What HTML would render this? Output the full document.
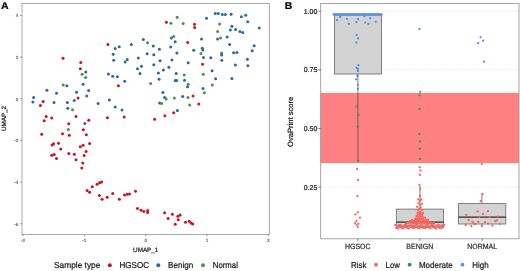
<!DOCTYPE html>
<html lang="en"><head><meta charset="utf-8"><title>Figure</title>
<style>
html,body{margin:0;padding:0;background:#fff;}
body{width:520px;height:271px;overflow:hidden;font-family:'Liberation Sans', Arial, sans-serif;}
svg{display:block;}
svg text{font-family:'Liberation Sans', Arial, sans-serif;text-rendering:geometricPrecision;}
</style></head><body>
<svg width="520" height="271" viewBox="0 0 520 271">
<rect x="0" y="0" width="520" height="271" fill="#ffffff"/>
<g id="panelA">
<rect x="22.0" y="3.6" width="247.3" height="230.8" fill="#fff" stroke="#8f8f8f" stroke-width="0.75"/>
<line x1="20.1" y1="15.5" x2="22.0" y2="15.5" stroke="#555" stroke-width="0.6"/>
<text x="18.4" y="17.4" font-size="4.6" fill="#555" text-anchor="end" stroke="#555" stroke-width="0.12">4</text>
<line x1="20.1" y1="57.2" x2="22.0" y2="57.2" stroke="#555" stroke-width="0.6"/>
<text x="18.4" y="59.1" font-size="4.6" fill="#555" text-anchor="end" stroke="#555" stroke-width="0.12">2</text>
<line x1="20.1" y1="98.8" x2="22.0" y2="98.8" stroke="#555" stroke-width="0.6"/>
<text x="18.4" y="100.7" font-size="4.6" fill="#555" text-anchor="end" stroke="#555" stroke-width="0.12">0</text>
<line x1="20.1" y1="140.4" x2="22.0" y2="140.4" stroke="#555" stroke-width="0.6"/>
<text x="18.4" y="142.3" font-size="4.6" fill="#555" text-anchor="end" stroke="#555" stroke-width="0.12">-2</text>
<line x1="20.1" y1="182.1" x2="22.0" y2="182.1" stroke="#555" stroke-width="0.6"/>
<text x="18.4" y="184.0" font-size="4.6" fill="#555" text-anchor="end" stroke="#555" stroke-width="0.12">-4</text>
<line x1="20.1" y1="223.8" x2="22.0" y2="223.8" stroke="#555" stroke-width="0.6"/>
<text x="18.4" y="225.7" font-size="4.6" fill="#555" text-anchor="end" stroke="#555" stroke-width="0.12">-6</text>
<line x1="23.0" y1="234.4" x2="23.0" y2="236.3" stroke="#555" stroke-width="0.6"/>
<text x="23.0" y="241.6" font-size="4.6" fill="#555" text-anchor="middle" stroke="#555" stroke-width="0.12">-2</text>
<line x1="84.4" y1="234.4" x2="84.4" y2="236.3" stroke="#555" stroke-width="0.6"/>
<text x="84.4" y="241.6" font-size="4.6" fill="#555" text-anchor="middle" stroke="#555" stroke-width="0.12">-1</text>
<line x1="145.7" y1="234.4" x2="145.7" y2="236.3" stroke="#555" stroke-width="0.6"/>
<text x="145.7" y="241.6" font-size="4.6" fill="#555" text-anchor="middle" stroke="#555" stroke-width="0.12">0</text>
<line x1="207.0" y1="234.4" x2="207.0" y2="236.3" stroke="#555" stroke-width="0.6"/>
<text x="207.0" y="241.6" font-size="4.6" fill="#555" text-anchor="middle" stroke="#555" stroke-width="0.12">1</text>
<line x1="268.3" y1="234.4" x2="268.3" y2="236.3" stroke="#555" stroke-width="0.6"/>
<text x="268.3" y="241.6" font-size="4.6" fill="#555" text-anchor="middle" stroke="#555" stroke-width="0.12">2</text>
<text x="145.7" y="252.3" font-size="6.3" fill="#1a1a1a" text-anchor="middle" stroke="#1a1a1a" stroke-width="0.22">UMAP_1</text>
<text transform="translate(6.3,118.5) rotate(-90)" font-size="6.3" fill="#1a1a1a" text-anchor="middle" stroke="#1a1a1a" stroke-width="0.22">UMAP_2</text>
<circle cx="107.9" cy="44.4" r="1.5" fill="#cc1122"/>
<circle cx="115.2" cy="48.4" r="1.5" fill="#2c679f"/>
<circle cx="119.2" cy="46.7" r="1.5" fill="#2c679f"/>
<circle cx="113.2" cy="54.2" r="1.5" fill="#2c679f"/>
<circle cx="113.7" cy="60.2" r="1.5" fill="#2c679f"/>
<circle cx="125.2" cy="62.0" r="1.5" fill="#2c679f"/>
<circle cx="127.2" cy="59.5" r="1.5" fill="#2c679f"/>
<circle cx="63.0" cy="58.2" r="1.5" fill="#cc1122"/>
<circle cx="80.8" cy="62.5" r="1.5" fill="#cc1122"/>
<circle cx="215.3" cy="13.6" r="1.5" fill="#2c679f"/>
<circle cx="218.3" cy="13.6" r="1.5" fill="#2c679f"/>
<circle cx="222.3" cy="14.6" r="1.5" fill="#2c679f"/>
<circle cx="225.4" cy="14.6" r="1.5" fill="#2c679f"/>
<circle cx="231.1" cy="14.3" r="1.5" fill="#2c679f"/>
<circle cx="241.4" cy="16.8" r="1.5" fill="#2c679f"/>
<circle cx="245.7" cy="15.3" r="1.5" fill="#2c679f"/>
<circle cx="247.7" cy="21.8" r="1.5" fill="#2c679f"/>
<circle cx="206.5" cy="18.3" r="1.5" fill="#2c679f"/>
<circle cx="177.2" cy="17.3" r="1.5" fill="#43963f"/>
<circle cx="166.4" cy="22.3" r="1.5" fill="#cc1122"/>
<circle cx="170.9" cy="23.3" r="1.5" fill="#43963f"/>
<circle cx="183.2" cy="23.6" r="1.5" fill="#43963f"/>
<circle cx="194.5" cy="24.3" r="1.5" fill="#cc1122"/>
<circle cx="194.7" cy="27.4" r="1.5" fill="#cc1122"/>
<circle cx="219.6" cy="24.1" r="1.5" fill="#43963f"/>
<circle cx="217.6" cy="31.4" r="1.5" fill="#43963f"/>
<circle cx="231.9" cy="26.3" r="1.5" fill="#2c679f"/>
<circle cx="230.4" cy="29.9" r="1.5" fill="#2c679f"/>
<circle cx="235.6" cy="29.4" r="1.5" fill="#2c679f"/>
<circle cx="239.9" cy="31.4" r="1.5" fill="#2c679f"/>
<circle cx="242.7" cy="32.4" r="1.5" fill="#2c679f"/>
<circle cx="259.2" cy="28.1" r="1.5" fill="#2c679f"/>
<circle cx="173.7" cy="36.4" r="1.5" fill="#43963f"/>
<circle cx="171.4" cy="38.1" r="1.5" fill="#2c679f"/>
<circle cx="175.2" cy="41.7" r="1.5" fill="#2c679f"/>
<circle cx="143.3" cy="39.4" r="1.5" fill="#2c679f"/>
<circle cx="147.6" cy="42.7" r="1.5" fill="#43963f"/>
<circle cx="153.3" cy="45.9" r="1.5" fill="#2c679f"/>
<circle cx="159.4" cy="49.2" r="1.5" fill="#2c679f"/>
<circle cx="131.3" cy="44.4" r="1.5" fill="#2c679f"/>
<circle cx="187.7" cy="42.4" r="1.5" fill="#cc1122"/>
<circle cx="201.5" cy="38.9" r="1.5" fill="#2c679f"/>
<circle cx="217.6" cy="39.1" r="1.5" fill="#2c679f"/>
<circle cx="220.6" cy="38.1" r="1.5" fill="#43963f"/>
<circle cx="227.1" cy="36.9" r="1.5" fill="#2c679f"/>
<circle cx="229.6" cy="44.4" r="1.5" fill="#2c679f"/>
<circle cx="254.2" cy="45.7" r="1.5" fill="#2c679f"/>
<circle cx="252.2" cy="50.7" r="1.5" fill="#2c679f"/>
<circle cx="170.7" cy="46.9" r="1.5" fill="#2c679f"/>
<circle cx="176.9" cy="52.9" r="1.5" fill="#2c679f"/>
<circle cx="193.7" cy="50.2" r="1.5" fill="#2c679f"/>
<circle cx="202.3" cy="48.2" r="1.5" fill="#2c679f"/>
<circle cx="202.8" cy="49.9" r="1.5" fill="#2c679f"/>
<circle cx="201.0" cy="53.5" r="1.5" fill="#43963f"/>
<circle cx="221.6" cy="52.9" r="1.5" fill="#43963f"/>
<circle cx="221.6" cy="55.0" r="1.5" fill="#2c679f"/>
<circle cx="233.6" cy="52.7" r="1.5" fill="#2c679f"/>
<circle cx="236.9" cy="52.4" r="1.5" fill="#2c679f"/>
<circle cx="147.1" cy="53.7" r="1.5" fill="#2c679f"/>
<circle cx="153.8" cy="54.7" r="1.5" fill="#2c679f"/>
<circle cx="138.3" cy="58.0" r="1.5" fill="#2c679f"/>
<circle cx="160.1" cy="60.7" r="1.5" fill="#2c679f"/>
<circle cx="171.9" cy="60.0" r="1.5" fill="#2c679f"/>
<circle cx="188.2" cy="62.7" r="1.5" fill="#2c679f"/>
<circle cx="203.5" cy="57.5" r="1.5" fill="#2c679f"/>
<circle cx="210.8" cy="57.7" r="1.5" fill="#2c679f"/>
<circle cx="221.8" cy="60.2" r="1.5" fill="#2c679f"/>
<circle cx="247.4" cy="59.2" r="1.5" fill="#2c679f"/>
<circle cx="202.5" cy="64.2" r="1.5" fill="#cc1122"/>
<circle cx="141.5" cy="66.2" r="1.5" fill="#2c679f"/>
<circle cx="153.8" cy="64.7" r="1.5" fill="#2c679f"/>
<circle cx="168.9" cy="67.3" r="1.5" fill="#2c679f"/>
<circle cx="235.4" cy="65.0" r="1.5" fill="#2c679f"/>
<circle cx="247.9" cy="65.7" r="1.5" fill="#2c679f"/>
<circle cx="80.3" cy="68.8" r="1.5" fill="#cc1122"/>
<circle cx="85.8" cy="72.0" r="1.5" fill="#2c679f"/>
<circle cx="82.1" cy="74.3" r="1.5" fill="#43963f"/>
<circle cx="85.6" cy="77.5" r="1.5" fill="#43963f"/>
<circle cx="108.4" cy="74.0" r="1.5" fill="#2c679f"/>
<circle cx="112.7" cy="76.3" r="1.5" fill="#2c679f"/>
<circle cx="117.4" cy="76.8" r="1.5" fill="#2c679f"/>
<circle cx="124.7" cy="81.3" r="1.5" fill="#2c679f"/>
<circle cx="118.4" cy="85.8" r="1.5" fill="#cc1122"/>
<circle cx="83.1" cy="84.3" r="1.5" fill="#2c679f"/>
<circle cx="63.2" cy="85.1" r="1.5" fill="#43963f"/>
<circle cx="66.8" cy="85.8" r="1.5" fill="#2c679f"/>
<circle cx="46.9" cy="90.3" r="1.5" fill="#2c679f"/>
<circle cx="56.5" cy="93.3" r="1.5" fill="#2c679f"/>
<circle cx="76.5" cy="92.3" r="1.5" fill="#2c679f"/>
<circle cx="88.6" cy="90.6" r="1.5" fill="#2c679f"/>
<circle cx="86.8" cy="96.1" r="1.5" fill="#2c679f"/>
<circle cx="78.0" cy="97.9" r="1.5" fill="#cc1122"/>
<circle cx="74.3" cy="100.4" r="1.5" fill="#2c679f"/>
<circle cx="67.3" cy="102.4" r="1.5" fill="#2c679f"/>
<circle cx="33.6" cy="97.4" r="1.5" fill="#2c679f"/>
<circle cx="32.9" cy="101.9" r="1.5" fill="#2c679f"/>
<circle cx="43.2" cy="101.4" r="1.5" fill="#cc1122"/>
<circle cx="40.4" cy="105.6" r="1.5" fill="#cc1122"/>
<circle cx="54.0" cy="102.4" r="1.5" fill="#2c679f"/>
<circle cx="98.1" cy="103.4" r="1.5" fill="#2c679f"/>
<circle cx="109.4" cy="99.9" r="1.5" fill="#2c679f"/>
<circle cx="115.2" cy="106.9" r="1.5" fill="#2c679f"/>
<circle cx="122.0" cy="109.9" r="1.5" fill="#2c679f"/>
<circle cx="67.8" cy="108.2" r="1.5" fill="#2c679f"/>
<circle cx="72.5" cy="109.7" r="1.5" fill="#43963f"/>
<circle cx="46.2" cy="116.4" r="1.5" fill="#cc1122"/>
<circle cx="44.2" cy="120.7" r="1.5" fill="#cc1122"/>
<circle cx="51.7" cy="117.9" r="1.5" fill="#cc1122"/>
<circle cx="76.0" cy="116.4" r="1.5" fill="#cc1122"/>
<circle cx="88.8" cy="120.2" r="1.5" fill="#cc1122"/>
<circle cx="84.8" cy="123.5" r="1.5" fill="#2c679f"/>
<circle cx="68.8" cy="123.7" r="1.5" fill="#cc1122"/>
<circle cx="107.4" cy="117.7" r="1.5" fill="#cc1122"/>
<circle cx="124.2" cy="116.9" r="1.5" fill="#cc1122"/>
<circle cx="68.3" cy="129.5" r="1.5" fill="#43963f"/>
<circle cx="83.3" cy="129.7" r="1.5" fill="#cc1122"/>
<circle cx="62.5" cy="133.7" r="1.5" fill="#cc1122"/>
<circle cx="41.7" cy="134.2" r="1.5" fill="#cc1122"/>
<circle cx="69.3" cy="135.3" r="1.5" fill="#cc1122"/>
<circle cx="86.3" cy="134.8" r="1.5" fill="#cc1122"/>
<circle cx="137.5" cy="68.8" r="1.5" fill="#2c679f"/>
<circle cx="140.0" cy="73.5" r="1.5" fill="#2c679f"/>
<circle cx="158.4" cy="73.0" r="1.5" fill="#2c679f"/>
<circle cx="163.4" cy="70.0" r="1.5" fill="#2c679f"/>
<circle cx="176.2" cy="73.5" r="1.5" fill="#2c679f"/>
<circle cx="184.2" cy="75.0" r="1.5" fill="#43963f"/>
<circle cx="203.3" cy="74.3" r="1.5" fill="#43963f"/>
<circle cx="212.1" cy="70.8" r="1.5" fill="#2c679f"/>
<circle cx="159.1" cy="79.3" r="1.5" fill="#2c679f"/>
<circle cx="175.2" cy="80.5" r="1.5" fill="#2c679f"/>
<circle cx="176.7" cy="80.5" r="1.5" fill="#2c679f"/>
<circle cx="184.5" cy="80.3" r="1.5" fill="#2c679f"/>
<circle cx="215.6" cy="78.8" r="1.5" fill="#2c679f"/>
<circle cx="231.9" cy="78.5" r="1.5" fill="#2c679f"/>
<circle cx="150.6" cy="83.6" r="1.5" fill="#43963f"/>
<circle cx="188.2" cy="84.3" r="1.5" fill="#43963f"/>
<circle cx="187.5" cy="86.8" r="1.5" fill="#2c679f"/>
<circle cx="212.3" cy="85.1" r="1.5" fill="#43963f"/>
<circle cx="203.0" cy="88.6" r="1.5" fill="#2c679f"/>
<circle cx="204.3" cy="92.8" r="1.5" fill="#43963f"/>
<circle cx="162.9" cy="92.6" r="1.5" fill="#2c679f"/>
<circle cx="164.6" cy="97.4" r="1.5" fill="#2c679f"/>
<circle cx="166.1" cy="98.9" r="1.5" fill="#43963f"/>
<circle cx="174.4" cy="97.9" r="1.5" fill="#43963f"/>
<circle cx="182.7" cy="96.4" r="1.5" fill="#2c679f"/>
<circle cx="188.0" cy="97.6" r="1.5" fill="#43963f"/>
<circle cx="193.0" cy="96.1" r="1.5" fill="#cc1122"/>
<circle cx="159.6" cy="102.9" r="1.5" fill="#2c679f"/>
<circle cx="161.6" cy="103.4" r="1.5" fill="#43963f"/>
<circle cx="189.7" cy="104.9" r="1.5" fill="#43963f"/>
<circle cx="198.8" cy="103.9" r="1.5" fill="#cc1122"/>
<circle cx="177.4" cy="110.4" r="1.5" fill="#2c679f"/>
<circle cx="173.7" cy="112.7" r="1.5" fill="#cc1122"/>
<circle cx="164.9" cy="115.7" r="1.5" fill="#cc1122"/>
<circle cx="154.6" cy="119.2" r="1.5" fill="#cc1122"/>
<circle cx="52.2" cy="145.0" r="1.5" fill="#cc1122"/>
<circle cx="53.5" cy="143.8" r="1.5" fill="#cc1122"/>
<circle cx="58.5" cy="143.3" r="1.5" fill="#cc1122"/>
<circle cx="60.7" cy="149.0" r="1.5" fill="#cc1122"/>
<circle cx="80.3" cy="146.8" r="1.5" fill="#cc1122"/>
<circle cx="83.1" cy="145.3" r="1.5" fill="#cc1122"/>
<circle cx="89.6" cy="143.5" r="1.5" fill="#cc1122"/>
<circle cx="86.1" cy="151.6" r="1.5" fill="#cc1122"/>
<circle cx="84.1" cy="155.6" r="1.5" fill="#cc1122"/>
<circle cx="51.7" cy="155.3" r="1.5" fill="#cc1122"/>
<circle cx="54.2" cy="154.6" r="1.5" fill="#cc1122"/>
<circle cx="56.5" cy="158.6" r="1.5" fill="#cc1122"/>
<circle cx="68.8" cy="153.6" r="1.5" fill="#cc1122"/>
<circle cx="74.3" cy="154.3" r="1.5" fill="#cc1122"/>
<circle cx="76.0" cy="159.8" r="1.5" fill="#cc1122"/>
<circle cx="82.8" cy="162.9" r="1.5" fill="#cc1122"/>
<circle cx="81.8" cy="167.9" r="1.5" fill="#cc1122"/>
<circle cx="97.1" cy="184.2" r="1.5" fill="#cc1122"/>
<circle cx="99.6" cy="182.7" r="1.5" fill="#cc1122"/>
<circle cx="101.6" cy="181.9" r="1.5" fill="#cc1122"/>
<circle cx="92.3" cy="186.7" r="1.5" fill="#cc1122"/>
<circle cx="87.1" cy="190.5" r="1.5" fill="#cc1122"/>
<circle cx="89.6" cy="192.2" r="1.5" fill="#cc1122"/>
<circle cx="99.4" cy="195.5" r="1.5" fill="#cc1122"/>
<circle cx="102.1" cy="199.2" r="1.5" fill="#cc1122"/>
<circle cx="107.2" cy="197.2" r="1.5" fill="#cc1122"/>
<circle cx="112.7" cy="193.5" r="1.5" fill="#cc1122"/>
<circle cx="119.4" cy="199.2" r="1.5" fill="#cc1122"/>
<circle cx="124.5" cy="195.0" r="1.5" fill="#cc1122"/>
<circle cx="127.2" cy="194.2" r="1.5" fill="#cc1122"/>
<circle cx="129.5" cy="194.0" r="1.5" fill="#cc1122"/>
<circle cx="135.5" cy="191.2" r="1.5" fill="#cc1122"/>
<circle cx="137.5" cy="208.5" r="1.5" fill="#cc1122"/>
<circle cx="141.0" cy="210.3" r="1.5" fill="#cc1122"/>
<circle cx="143.8" cy="211.5" r="1.5" fill="#cc1122"/>
<circle cx="147.6" cy="210.5" r="1.5" fill="#cc1122"/>
<circle cx="147.6" cy="212.5" r="1.5" fill="#cc1122"/>
<circle cx="164.6" cy="212.8" r="1.5" fill="#cc1122"/>
<circle cx="172.4" cy="214.3" r="1.5" fill="#cc1122"/>
<circle cx="168.1" cy="218.6" r="1.5" fill="#cc1122"/>
<circle cx="177.9" cy="216.3" r="1.5" fill="#cc1122"/>
<circle cx="180.2" cy="215.0" r="1.5" fill="#cc1122"/>
<circle cx="178.2" cy="219.8" r="1.5" fill="#cc1122"/>
<circle cx="175.2" cy="224.3" r="1.5" fill="#cc1122"/>
<circle cx="185.5" cy="222.3" r="1.5" fill="#cc1122"/>
<circle cx="189.2" cy="221.3" r="1.5" fill="#cc1122"/>
<circle cx="191.0" cy="223.1" r="1.5" fill="#cc1122"/>
<circle cx="192.7" cy="224.1" r="1.5" fill="#cc1122"/>
</g>
<g id="legendA" font-size="8.6">
<text fill="#1a1a1a" x="54" y="267.7" textLength="46.4" lengthAdjust="spacingAndGlyphs" stroke="#1a1a1a" stroke-width="0.22">Sample type</text>
<circle cx="109.8" cy="265.3" r="1.95" fill="#cc1122"/>
<text fill="#1a1a1a" x="119.4" y="267.7" textLength="29.6" lengthAdjust="spacingAndGlyphs" stroke="#1a1a1a" stroke-width="0.22">HGSOC</text>
<circle cx="158.3" cy="265.3" r="1.95" fill="#2c679f"/>
<text fill="#1a1a1a" x="168.1" y="267.7" textLength="25.1" lengthAdjust="spacingAndGlyphs" stroke="#1a1a1a" stroke-width="0.22">Benign</text>
<circle cx="203.0" cy="265.3" r="1.95" fill="#43963f"/>
<text fill="#1a1a1a" x="212.8" y="267.7" textLength="25.1" lengthAdjust="spacingAndGlyphs" stroke="#1a1a1a" stroke-width="0.22">Normal</text>
</g>
<text x="1.0" y="9.1" font-size="9.5" font-weight="bold" fill="#000" textLength="7.6" lengthAdjust="spacingAndGlyphs" stroke="#000" stroke-width="0.22">A</text>
<g id="panelB">
<rect x="320.7" y="3.5" width="198.3" height="235.3" fill="#fff"/>
<line x1="320.7" y1="11.2" x2="519.0" y2="11.2" stroke="#dcdcdc" stroke-width="0.6" stroke-dasharray="1.6 1.6"/>
<line x1="320.7" y1="69.9" x2="519.0" y2="69.9" stroke="#dcdcdc" stroke-width="0.6" stroke-dasharray="1.6 1.6"/>
<line x1="320.7" y1="128.5" x2="519.0" y2="128.5" stroke="#dcdcdc" stroke-width="0.6" stroke-dasharray="1.6 1.6"/>
<line x1="320.7" y1="187.1" x2="519.0" y2="187.1" stroke="#dcdcdc" stroke-width="0.6" stroke-dasharray="1.6 1.6"/>
<rect x="320.7" y="92.9" width="198.3" height="70.2" fill="#ff8080"/>
<line x1="357.9" y1="14.4" x2="357.9" y2="14.4" stroke="#444" stroke-width="0.7"/>
<line x1="357.9" y1="74.0" x2="357.9" y2="161.2" stroke="#444" stroke-width="0.7"/>
<rect x="334.5" y="14.4" width="47.0" height="59.6" fill="#d3d3d3" stroke="#666" stroke-width="0.8"/>
<line x1="334.5" y1="14.6" x2="381.5" y2="14.6" stroke="#2a2a2a" stroke-width="1.3"/>
<line x1="420.0" y1="186.2" x2="420.0" y2="209.1" stroke="#444" stroke-width="0.7"/>
<line x1="420.0" y1="226.3" x2="420.0" y2="228.0" stroke="#444" stroke-width="0.7"/>
<rect x="396.3" y="209.1" width="47.3" height="17.2" fill="#d3d3d3" stroke="#666" stroke-width="0.8"/>
<line x1="396.3" y1="222.2" x2="443.6" y2="222.2" stroke="#2a2a2a" stroke-width="1.3"/>
<line x1="481.9" y1="194.0" x2="481.9" y2="203.6" stroke="#444" stroke-width="0.7"/>
<line x1="481.9" y1="224.0" x2="481.9" y2="226.2" stroke="#444" stroke-width="0.7"/>
<rect x="458.5" y="203.6" width="47.3" height="20.4" fill="#d3d3d3" stroke="#666" stroke-width="0.8"/>
<line x1="458.5" y1="217.2" x2="505.8" y2="217.2" stroke="#2a2a2a" stroke-width="1.3"/>
<circle cx="357.1" cy="168.9" r="1.15" fill="#f5645e"/>
<circle cx="358.1" cy="179.9" r="1.15" fill="#f5645e"/>
<circle cx="357.4" cy="196.2" r="1.15" fill="#f5645e"/>
<circle cx="357.9" cy="212.3" r="1.15" fill="#f5645e"/>
<circle cx="355.4" cy="214.3" r="1.15" fill="#f5645e"/>
<circle cx="359.9" cy="217.6" r="1.15" fill="#f5645e"/>
<circle cx="356.4" cy="221.1" r="1.15" fill="#f5645e"/>
<circle cx="355.1" cy="223.1" r="1.15" fill="#f5645e"/>
<circle cx="358.4" cy="223.8" r="1.15" fill="#f5645e"/>
<circle cx="356.6" cy="225.1" r="1.15" fill="#f5645e"/>
<circle cx="357.9" cy="227.1" r="1.15" fill="#f5645e"/>
<circle cx="356.6" cy="106.4" r="1.15" fill="#1aa53a"/>
<circle cx="358.4" cy="114.9" r="1.15" fill="#1aa53a"/>
<circle cx="357.6" cy="126.7" r="1.15" fill="#1aa53a"/>
<circle cx="358.1" cy="161.1" r="1.15" fill="#1aa53a"/>
<circle cx="356.6" cy="35.1" r="1.15" fill="#568ce9"/>
<circle cx="358.1" cy="38.4" r="1.15" fill="#568ce9"/>
<circle cx="356.4" cy="42.4" r="1.15" fill="#568ce9"/>
<circle cx="358.4" cy="65.2" r="1.15" fill="#568ce9"/>
<circle cx="356.6" cy="67.8" r="1.15" fill="#568ce9"/>
<circle cx="357.9" cy="68.8" r="1.15" fill="#568ce9"/>
<circle cx="357.9" cy="71.0" r="1.15" fill="#568ce9"/>
<circle cx="357.4" cy="76.0" r="1.15" fill="#568ce9"/>
<circle cx="356.1" cy="79.3" r="1.15" fill="#568ce9"/>
<circle cx="357.9" cy="85.1" r="1.15" fill="#568ce9"/>
<circle cx="357.9" cy="88.8" r="1.15" fill="#568ce9"/>
<circle cx="336.9" cy="20.1" r="1.15" fill="#568ce9"/>
<circle cx="340.1" cy="16.9" r="1.15" fill="#568ce9"/>
<circle cx="347.0" cy="18.8" r="1.15" fill="#568ce9"/>
<circle cx="348.8" cy="23.8" r="1.15" fill="#568ce9"/>
<circle cx="356.4" cy="22.0" r="1.15" fill="#568ce9"/>
<circle cx="358.2" cy="19.2" r="1.15" fill="#568ce9"/>
<circle cx="365.2" cy="22.6" r="1.15" fill="#568ce9"/>
<circle cx="368.3" cy="23.8" r="1.15" fill="#568ce9"/>
<circle cx="370.2" cy="18.2" r="1.15" fill="#568ce9"/>
<circle cx="375.8" cy="21.7" r="1.15" fill="#568ce9"/>
<circle cx="364.5" cy="16.3" r="1.15" fill="#568ce9"/>
<circle cx="333.6" cy="14.4" r="1.15" fill="#568ce9"/>
<circle cx="334.6" cy="14.4" r="1.15" fill="#568ce9"/>
<circle cx="335.6" cy="14.4" r="1.15" fill="#568ce9"/>
<circle cx="336.6" cy="14.4" r="1.15" fill="#568ce9"/>
<circle cx="337.6" cy="14.4" r="1.15" fill="#568ce9"/>
<circle cx="338.6" cy="14.4" r="1.15" fill="#568ce9"/>
<circle cx="339.6" cy="14.4" r="1.15" fill="#568ce9"/>
<circle cx="340.6" cy="14.4" r="1.15" fill="#568ce9"/>
<circle cx="341.6" cy="14.4" r="1.15" fill="#568ce9"/>
<circle cx="342.6" cy="14.4" r="1.15" fill="#568ce9"/>
<circle cx="343.6" cy="14.4" r="1.15" fill="#568ce9"/>
<circle cx="344.6" cy="14.4" r="1.15" fill="#568ce9"/>
<circle cx="345.6" cy="14.4" r="1.15" fill="#568ce9"/>
<circle cx="346.6" cy="14.4" r="1.15" fill="#568ce9"/>
<circle cx="347.6" cy="14.4" r="1.15" fill="#568ce9"/>
<circle cx="348.6" cy="14.4" r="1.15" fill="#568ce9"/>
<circle cx="349.6" cy="14.4" r="1.15" fill="#568ce9"/>
<circle cx="350.6" cy="14.4" r="1.15" fill="#568ce9"/>
<circle cx="351.6" cy="14.4" r="1.15" fill="#568ce9"/>
<circle cx="352.6" cy="14.4" r="1.15" fill="#568ce9"/>
<circle cx="353.6" cy="14.4" r="1.15" fill="#568ce9"/>
<circle cx="354.6" cy="14.4" r="1.15" fill="#568ce9"/>
<circle cx="355.6" cy="14.4" r="1.15" fill="#568ce9"/>
<circle cx="356.6" cy="14.4" r="1.15" fill="#568ce9"/>
<circle cx="357.6" cy="14.4" r="1.15" fill="#568ce9"/>
<circle cx="358.6" cy="14.4" r="1.15" fill="#568ce9"/>
<circle cx="359.6" cy="14.4" r="1.15" fill="#568ce9"/>
<circle cx="360.6" cy="14.4" r="1.15" fill="#568ce9"/>
<circle cx="361.6" cy="14.4" r="1.15" fill="#568ce9"/>
<circle cx="362.6" cy="14.4" r="1.15" fill="#568ce9"/>
<circle cx="363.6" cy="14.4" r="1.15" fill="#568ce9"/>
<circle cx="364.6" cy="14.4" r="1.15" fill="#568ce9"/>
<circle cx="365.6" cy="14.4" r="1.15" fill="#568ce9"/>
<circle cx="366.6" cy="14.4" r="1.15" fill="#568ce9"/>
<circle cx="367.6" cy="14.4" r="1.15" fill="#568ce9"/>
<circle cx="368.6" cy="14.4" r="1.15" fill="#568ce9"/>
<circle cx="369.6" cy="14.4" r="1.15" fill="#568ce9"/>
<circle cx="370.6" cy="14.4" r="1.15" fill="#568ce9"/>
<circle cx="371.6" cy="14.4" r="1.15" fill="#568ce9"/>
<circle cx="372.6" cy="14.4" r="1.15" fill="#568ce9"/>
<circle cx="373.6" cy="14.4" r="1.15" fill="#568ce9"/>
<circle cx="374.6" cy="14.4" r="1.15" fill="#568ce9"/>
<circle cx="375.6" cy="14.4" r="1.15" fill="#568ce9"/>
<circle cx="376.6" cy="14.4" r="1.15" fill="#568ce9"/>
<circle cx="377.6" cy="14.4" r="1.15" fill="#568ce9"/>
<circle cx="378.6" cy="14.4" r="1.15" fill="#568ce9"/>
<circle cx="379.6" cy="14.4" r="1.15" fill="#568ce9"/>
<circle cx="380.6" cy="14.4" r="1.15" fill="#568ce9"/>
<circle cx="381.6" cy="14.4" r="1.15" fill="#568ce9"/>
<circle cx="420.3" cy="91.9" r="1.15" fill="#568ce9"/>
<circle cx="419.4" cy="95.3" r="1.15" fill="#1aa53a"/>
<circle cx="419.7" cy="109.0" r="1.15" fill="#1aa53a"/>
<circle cx="419.4" cy="134.0" r="1.15" fill="#1aa53a"/>
<circle cx="420.0" cy="141.5" r="1.15" fill="#1aa53a"/>
<circle cx="419.7" cy="148.7" r="1.15" fill="#1aa53a"/>
<circle cx="420.0" cy="159.0" r="1.15" fill="#1aa53a"/>
<circle cx="419.7" cy="167.2" r="1.15" fill="#f5645e"/>
<circle cx="420.4" cy="170.4" r="1.15" fill="#f5645e"/>
<circle cx="419.9" cy="174.9" r="1.15" fill="#f5645e"/>
<circle cx="419.5" cy="185.0" r="1.15" fill="#f5645e"/>
<circle cx="420.2" cy="188.8" r="1.15" fill="#f5645e"/>
<circle cx="419.9" cy="196.0" r="1.15" fill="#f5645e"/>
<circle cx="418.2" cy="199.4" r="1.15" fill="#f5645e"/>
<circle cx="421.4" cy="199.4" r="1.15" fill="#f5645e"/>
<circle cx="419.9" cy="200.7" r="1.15" fill="#f5645e"/>
<circle cx="418.6" cy="203.2" r="1.15" fill="#f5645e"/>
<circle cx="422.0" cy="203.8" r="1.15" fill="#f5645e"/>
<circle cx="420.1" cy="205.1" r="1.15" fill="#f5645e"/>
<circle cx="417.3" cy="207.0" r="1.15" fill="#f5645e"/>
<circle cx="420.7" cy="207.6" r="1.15" fill="#f5645e"/>
<circle cx="419.1" cy="209.5" r="1.15" fill="#f5645e"/>
<circle cx="417.9" cy="210.1" r="1.15" fill="#f5645e"/>
<circle cx="422.0" cy="210.1" r="1.15" fill="#f5645e"/>
<circle cx="420.1" cy="212.0" r="1.15" fill="#f5645e"/>
<circle cx="422.9" cy="212.9" r="1.15" fill="#f5645e"/>
<circle cx="417.5" cy="212.8" r="1.15" fill="#f5645e"/>
<circle cx="418.2" cy="213.0" r="1.15" fill="#f5645e"/>
<circle cx="420.2" cy="213.2" r="1.15" fill="#f5645e"/>
<circle cx="422.2" cy="213.1" r="1.15" fill="#f5645e"/>
<circle cx="418.1" cy="215.0" r="1.15" fill="#f5645e"/>
<circle cx="420.1" cy="215.0" r="1.15" fill="#f5645e"/>
<circle cx="422.1" cy="214.6" r="1.15" fill="#f5645e"/>
<circle cx="416.6" cy="216.2" r="1.15" fill="#f5645e"/>
<circle cx="418.6" cy="216.9" r="1.15" fill="#f5645e"/>
<circle cx="420.6" cy="216.4" r="1.15" fill="#f5645e"/>
<circle cx="422.6" cy="216.4" r="1.15" fill="#f5645e"/>
<circle cx="415.3" cy="218.7" r="1.15" fill="#f5645e"/>
<circle cx="417.3" cy="218.3" r="1.15" fill="#f5645e"/>
<circle cx="419.3" cy="218.6" r="1.15" fill="#f5645e"/>
<circle cx="421.3" cy="218.3" r="1.15" fill="#f5645e"/>
<circle cx="423.3" cy="218.4" r="1.15" fill="#f5645e"/>
<circle cx="425.3" cy="218.0" r="1.15" fill="#f5645e"/>
<circle cx="412.0" cy="220.1" r="1.15" fill="#f5645e"/>
<circle cx="414.0" cy="220.3" r="1.15" fill="#f5645e"/>
<circle cx="416.0" cy="220.0" r="1.15" fill="#f5645e"/>
<circle cx="418.0" cy="220.2" r="1.15" fill="#f5645e"/>
<circle cx="420.0" cy="220.1" r="1.15" fill="#f5645e"/>
<circle cx="422.0" cy="219.7" r="1.15" fill="#f5645e"/>
<circle cx="424.0" cy="220.2" r="1.15" fill="#f5645e"/>
<circle cx="426.0" cy="220.1" r="1.15" fill="#f5645e"/>
<circle cx="428.0" cy="219.8" r="1.15" fill="#f5645e"/>
<circle cx="410.1" cy="221.2" r="1.15" fill="#f5645e"/>
<circle cx="412.1" cy="221.9" r="1.15" fill="#f5645e"/>
<circle cx="414.1" cy="221.6" r="1.15" fill="#f5645e"/>
<circle cx="416.1" cy="221.8" r="1.15" fill="#f5645e"/>
<circle cx="418.1" cy="221.9" r="1.15" fill="#f5645e"/>
<circle cx="420.1" cy="221.8" r="1.15" fill="#f5645e"/>
<circle cx="422.1" cy="221.9" r="1.15" fill="#f5645e"/>
<circle cx="424.1" cy="221.5" r="1.15" fill="#f5645e"/>
<circle cx="426.1" cy="221.8" r="1.15" fill="#f5645e"/>
<circle cx="428.1" cy="221.6" r="1.15" fill="#f5645e"/>
<circle cx="430.1" cy="221.9" r="1.15" fill="#f5645e"/>
<circle cx="406.0" cy="223.4" r="1.15" fill="#f5645e"/>
<circle cx="408.0" cy="222.8" r="1.15" fill="#f5645e"/>
<circle cx="410.0" cy="222.8" r="1.15" fill="#f5645e"/>
<circle cx="412.0" cy="222.9" r="1.15" fill="#f5645e"/>
<circle cx="414.0" cy="223.5" r="1.15" fill="#f5645e"/>
<circle cx="416.0" cy="223.0" r="1.15" fill="#f5645e"/>
<circle cx="418.0" cy="223.2" r="1.15" fill="#f5645e"/>
<circle cx="420.0" cy="222.9" r="1.15" fill="#f5645e"/>
<circle cx="422.0" cy="223.1" r="1.15" fill="#f5645e"/>
<circle cx="424.0" cy="223.0" r="1.15" fill="#f5645e"/>
<circle cx="426.0" cy="223.0" r="1.15" fill="#f5645e"/>
<circle cx="428.0" cy="223.2" r="1.15" fill="#f5645e"/>
<circle cx="430.0" cy="223.2" r="1.15" fill="#f5645e"/>
<circle cx="432.0" cy="223.4" r="1.15" fill="#f5645e"/>
<circle cx="434.0" cy="223.2" r="1.15" fill="#f5645e"/>
<circle cx="395.4" cy="225.1" r="1.15" fill="#f5645e"/>
<circle cx="396.3" cy="228.0" r="1.15" fill="#f5645e"/>
<circle cx="397.2" cy="226.6" r="1.15" fill="#f5645e"/>
<circle cx="398.1" cy="228.4" r="1.15" fill="#f5645e"/>
<circle cx="399.0" cy="225.2" r="1.15" fill="#f5645e"/>
<circle cx="399.9" cy="227.3" r="1.15" fill="#f5645e"/>
<circle cx="400.8" cy="225.1" r="1.15" fill="#f5645e"/>
<circle cx="401.7" cy="228.1" r="1.15" fill="#f5645e"/>
<circle cx="402.6" cy="226.4" r="1.15" fill="#f5645e"/>
<circle cx="403.5" cy="228.4" r="1.15" fill="#f5645e"/>
<circle cx="404.4" cy="225.2" r="1.15" fill="#f5645e"/>
<circle cx="405.3" cy="227.3" r="1.15" fill="#f5645e"/>
<circle cx="406.2" cy="224.9" r="1.15" fill="#f5645e"/>
<circle cx="407.1" cy="227.8" r="1.15" fill="#f5645e"/>
<circle cx="408.0" cy="226.2" r="1.15" fill="#f5645e"/>
<circle cx="408.9" cy="228.4" r="1.15" fill="#f5645e"/>
<circle cx="409.8" cy="225.5" r="1.15" fill="#f5645e"/>
<circle cx="410.7" cy="227.0" r="1.15" fill="#f5645e"/>
<circle cx="411.6" cy="225.0" r="1.15" fill="#f5645e"/>
<circle cx="412.5" cy="227.9" r="1.15" fill="#f5645e"/>
<circle cx="413.4" cy="226.3" r="1.15" fill="#f5645e"/>
<circle cx="414.3" cy="228.2" r="1.15" fill="#f5645e"/>
<circle cx="415.2" cy="225.4" r="1.15" fill="#f5645e"/>
<circle cx="416.1" cy="227.3" r="1.15" fill="#f5645e"/>
<circle cx="417.0" cy="224.7" r="1.15" fill="#f5645e"/>
<circle cx="417.9" cy="227.9" r="1.15" fill="#f5645e"/>
<circle cx="418.8" cy="226.2" r="1.15" fill="#f5645e"/>
<circle cx="419.7" cy="228.4" r="1.15" fill="#f5645e"/>
<circle cx="420.6" cy="225.2" r="1.15" fill="#f5645e"/>
<circle cx="421.5" cy="227.4" r="1.15" fill="#f5645e"/>
<circle cx="422.4" cy="225.1" r="1.15" fill="#f5645e"/>
<circle cx="423.3" cy="227.9" r="1.15" fill="#f5645e"/>
<circle cx="424.2" cy="226.6" r="1.15" fill="#f5645e"/>
<circle cx="425.1" cy="228.2" r="1.15" fill="#f5645e"/>
<circle cx="426.0" cy="225.1" r="1.15" fill="#f5645e"/>
<circle cx="426.9" cy="227.2" r="1.15" fill="#f5645e"/>
<circle cx="427.8" cy="224.7" r="1.15" fill="#f5645e"/>
<circle cx="428.7" cy="227.8" r="1.15" fill="#f5645e"/>
<circle cx="429.6" cy="226.4" r="1.15" fill="#f5645e"/>
<circle cx="430.5" cy="228.3" r="1.15" fill="#f5645e"/>
<circle cx="431.4" cy="225.2" r="1.15" fill="#f5645e"/>
<circle cx="432.3" cy="227.0" r="1.15" fill="#f5645e"/>
<circle cx="433.2" cy="225.0" r="1.15" fill="#f5645e"/>
<circle cx="434.1" cy="227.8" r="1.15" fill="#f5645e"/>
<circle cx="435.0" cy="226.6" r="1.15" fill="#f5645e"/>
<circle cx="435.9" cy="228.5" r="1.15" fill="#f5645e"/>
<circle cx="436.8" cy="225.3" r="1.15" fill="#f5645e"/>
<circle cx="437.7" cy="227.2" r="1.15" fill="#f5645e"/>
<circle cx="438.6" cy="224.9" r="1.15" fill="#f5645e"/>
<circle cx="439.5" cy="228.0" r="1.15" fill="#f5645e"/>
<circle cx="440.4" cy="226.4" r="1.15" fill="#f5645e"/>
<circle cx="441.3" cy="228.3" r="1.15" fill="#f5645e"/>
<circle cx="442.2" cy="225.3" r="1.15" fill="#f5645e"/>
<circle cx="443.1" cy="227.4" r="1.15" fill="#f5645e"/>
<circle cx="444.0" cy="224.9" r="1.15" fill="#f5645e"/>
<circle cx="477.6" cy="211.6" r="1.15" fill="#f5645e"/>
<circle cx="487.9" cy="211.2" r="1.15" fill="#f5645e"/>
<circle cx="482.9" cy="213.9" r="1.15" fill="#f5645e"/>
<circle cx="466.3" cy="214.9" r="1.15" fill="#f5645e"/>
<circle cx="479.5" cy="216.8" r="1.15" fill="#f5645e"/>
<circle cx="489.5" cy="217.1" r="1.15" fill="#f5645e"/>
<circle cx="497.7" cy="216.6" r="1.15" fill="#f5645e"/>
<circle cx="468.8" cy="220.0" r="1.15" fill="#f5645e"/>
<circle cx="497.0" cy="220.3" r="1.15" fill="#f5645e"/>
<circle cx="472.6" cy="221.8" r="1.15" fill="#f5645e"/>
<circle cx="485.1" cy="222.1" r="1.15" fill="#f5645e"/>
<circle cx="473.8" cy="223.7" r="1.15" fill="#f5645e"/>
<circle cx="475.7" cy="224.1" r="1.15" fill="#f5645e"/>
<circle cx="488.2" cy="223.7" r="1.15" fill="#f5645e"/>
<circle cx="465.7" cy="225.0" r="1.15" fill="#f5645e"/>
<circle cx="471.3" cy="226.2" r="1.15" fill="#f5645e"/>
<circle cx="482.0" cy="226.2" r="1.15" fill="#f5645e"/>
<circle cx="492.4" cy="225.6" r="1.15" fill="#f5645e"/>
<circle cx="500.2" cy="224.1" r="1.15" fill="#f5645e"/>
<circle cx="495.2" cy="221.2" r="1.15" fill="#f5645e"/>
<circle cx="482.5" cy="194.0" r="1.15" fill="#f5645e"/>
<circle cx="480.7" cy="201.2" r="1.15" fill="#f5645e"/>
<circle cx="481.8" cy="164.1" r="1.15" fill="#f5645e"/>
<circle cx="478.3" cy="221.8" r="1.15" fill="#f5645e"/>
<circle cx="480.6" cy="37.1" r="1.15" fill="#568ce9"/>
<circle cx="483.1" cy="40.7" r="1.15" fill="#568ce9"/>
<circle cx="478.1" cy="43.2" r="1.15" fill="#568ce9"/>
<circle cx="483.9" cy="61.7" r="1.15" fill="#568ce9"/>
<circle cx="419.4" cy="28.9" r="1.15" fill="#568ce9"/>
<rect x="320.7" y="3.5" width="198.3" height="235.3" fill="none" stroke="#8f8f8f" stroke-width="0.8"/>
<line x1="318.5" y1="11.2" x2="320.7" y2="11.2" stroke="#444" stroke-width="0.7"/>
<text x="317.3" y="13.70" font-size="7" fill="#222" text-anchor="end" stroke="#222" stroke-width="0.22">1.00</text>
<line x1="318.5" y1="69.9" x2="320.7" y2="69.9" stroke="#444" stroke-width="0.7"/>
<text x="317.3" y="72.40" font-size="7" fill="#222" text-anchor="end" stroke="#222" stroke-width="0.22">0.75</text>
<line x1="318.5" y1="128.5" x2="320.7" y2="128.5" stroke="#444" stroke-width="0.7"/>
<text x="317.3" y="131.00" font-size="7" fill="#222" text-anchor="end" stroke="#222" stroke-width="0.22">0.50</text>
<line x1="318.5" y1="187.1" x2="320.7" y2="187.1" stroke="#444" stroke-width="0.7"/>
<text x="317.3" y="189.60" font-size="7" fill="#222" text-anchor="end" stroke="#222" stroke-width="0.22">0.25</text>
<line x1="357.8" y1="238.8" x2="357.8" y2="240.8" stroke="#444" stroke-width="0.7"/>
<text x="344.95" y="248.9" font-size="7.6" fill="#2b2b2b" textLength="25.7" lengthAdjust="spacingAndGlyphs" stroke="#2b2b2b" stroke-width="0.22">HGSOC</text>
<line x1="419.8" y1="238.8" x2="419.8" y2="240.8" stroke="#444" stroke-width="0.7"/>
<text x="406.35" y="248.9" font-size="7.6" fill="#2b2b2b" textLength="26.9" lengthAdjust="spacingAndGlyphs" stroke="#2b2b2b" stroke-width="0.22">BENIGN</text>
<line x1="482.2" y1="238.8" x2="482.2" y2="240.8" stroke="#444" stroke-width="0.7"/>
<text x="467.25" y="248.9" font-size="7.6" fill="#2b2b2b" textLength="29.9" lengthAdjust="spacingAndGlyphs" stroke="#2b2b2b" stroke-width="0.22">NORMAL</text>
<text transform="translate(293.3,121.9) rotate(-90)" font-size="7.6" fill="#1a1a1a" text-anchor="middle" stroke="#1a1a1a" stroke-width="0.22">OvaPrint score</text>
</g>
<g id="legendB" font-size="8.6">
<text fill="#1a1a1a" x="351" y="267.5" textLength="15.5" lengthAdjust="spacingAndGlyphs" stroke="#1a1a1a" stroke-width="0.22">Risk</text>
<circle cx="376" cy="264.7" r="1.9" fill="#f5645e"/>
<text fill="#1a1a1a" x="385.6" y="267.5" textLength="14.2" lengthAdjust="spacingAndGlyphs" stroke="#1a1a1a" stroke-width="0.22">Low</text>
<circle cx="409.6" cy="264.7" r="1.9" fill="#1f9a3c"/>
<text fill="#1a1a1a" x="418.9" y="267.5" textLength="33.8" lengthAdjust="spacingAndGlyphs" stroke="#1a1a1a" stroke-width="0.22">Moderate</text>
<circle cx="462.4" cy="264.7" r="1.9" fill="#5f8fe6"/>
<text fill="#1a1a1a" x="472.3" y="267.5" textLength="16.3" lengthAdjust="spacingAndGlyphs" stroke="#1a1a1a" stroke-width="0.22">High</text>
</g>
<text x="284.8" y="8.6" font-size="10" font-weight="bold" fill="#000" textLength="7.5" lengthAdjust="spacingAndGlyphs" stroke="#000" stroke-width="0.22">B</text>
</svg></body></html>
